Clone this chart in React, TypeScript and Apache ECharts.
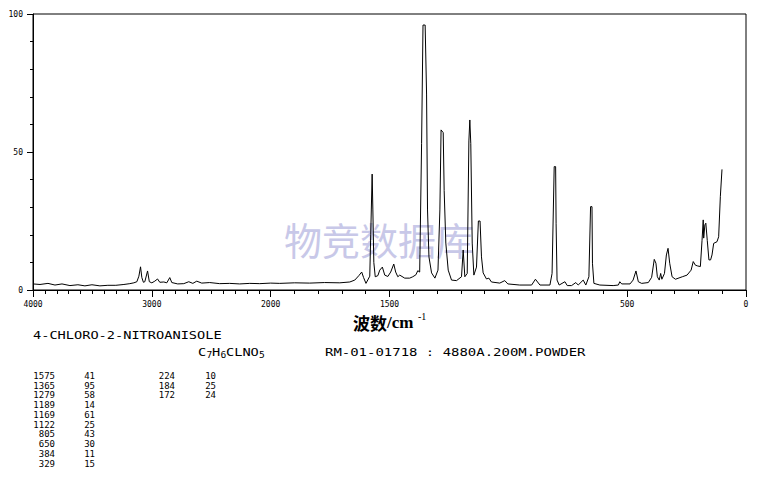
import React, { useEffect, useRef } from "react";
import * as echarts from "echarts";

// Raman spectrum: wavenumber (cm-1) and intensity
const wavenumbers = [
  4000, 3941, 3874, 3815, 3756, 3689, 3622, 3563, 3504, 3437, 3370, 3303, 3235, 3185, 3151, 3126,
  3109, 3095, 3084, 3071, 3059, 3036, 3021, 3000, 2975, 2952, 2933, 2899, 2874, 2849, 2832, 2782,
  2731, 2689, 2655, 2622, 2580, 2513, 2429, 2345, 2261, 2176, 2092, 2000,
  1962, 1899, 1836, 1773, 1709, 1667, 1646, 1629, 1617, 1609, 1599, 1583, 1579, 1573, 1570, 1566,
  1560, 1549, 1541, 1530, 1520, 1507, 1495, 1482, 1474, 1465, 1457, 1436, 1415, 1402, 1389, 1381,
  1373, 1365, 1359, 1350, 1344, 1340, 1334, 1323, 1309,
  1296, 1288, 1283, 1274, 1270, 1263, 1253, 1239, 1218, 1197, 1190, 1183, 1173, 1166, 1162, 1158,
  1152, 1145, 1134, 1126, 1119, 1113, 1106, 1092, 1082, 1071, 1036, 1015, 1002, 952, 902, 886,
  867, 825, 816, 807, 801, 799, 795, 786, 762, 752, 734, 716, 706, 685, 674, 661,
  654, 648, 646, 640, 615, 559, 537, 531, 523, 488, 475, 463, 453, 439, 411, 397,
  386, 379, 373, 365, 359, 354, 343, 335, 328, 321, 311, 297, 268, 248, 231, 222,
  213, 203, 192, 185, 180, 178, 173, 169, 163, 156, 149, 143, 136, 122, 115, 108, 101,
];
const intensities = [
  2.2, 2.0, 2.4, 1.8, 2.2, 1.6, 1.9, 1.5, 1.9, 1.5, 1.7, 1.7, 2.0, 2.3, 2.6, 3.0,
  5.0, 8.4, 4.5, 2.8, 3.0, 6.9, 3.0, 2.6, 3.2, 4.0, 2.8, 2.9, 2.6, 4.5, 2.7, 2.2,
  2.3, 3.0, 2.4, 3.2, 2.5, 2.7, 2.3, 2.4, 2.2, 2.4, 2.3, 2.5,
  2.4, 2.6, 2.5, 2.7, 2.6, 2.9, 3.6, 5.2, 6.5, 4.5, 2.4, 5.0, 20, 42, 29, 10,
  4.8, 5.2, 7.2, 8.3, 5.4, 4.9, 6.5, 9.4, 6.5, 4.8, 5.4, 4.3, 4.3, 4.8, 5.5, 7.0,
  6.5, 53, 96, 96, 71, 29, 12, 6.2, 4.3,
  7.2, 29, 58, 57, 36, 17, 7.2, 3.6, 3.4, 4.8, 14.5, 4.8, 6.0, 54, 61.6, 53,
  17, 5.4, 8.3, 25, 25, 12, 6.2, 4.0, 4.3, 2.9, 2.5, 3.4, 2.2, 1.8, 1.8, 3.9,
  1.8, 1.8, 6.0, 44.7, 44.7, 24, 3.6, 1.8, 3.0, 1.6, 1.6, 2.7, 1.8, 3.6, 1.8, 4.8,
  30.2, 30.2, 9.7, 2.4, 1.8, 1.6, 1.8, 3.0, 2.2, 2.2, 3.6, 6.9, 3.0, 2.4, 2.7, 4.6,
  11.1, 9.7, 4.8, 3.6, 6.0, 3.9, 6.0, 12.7, 15.1, 9.7, 4.8, 3.9, 4.8, 5.4, 7.2, 10.3,
  9.0, 8.7, 8.5, 18, 25.4, 18.8, 23.6, 24.2, 18, 10.9, 10.9, 12.7, 16.9, 17.5, 19.3, 33.8, 43.7,
];

const xTickLabels = [4000, 3000, 2000, 1500, 500, 0];
const yTickLabels = [0, 50, 100];

const compoundName = "4-CHLORO-2-NITROANISOLE";
const recordInfo = "RM-01-01718 : 4880A.200M.POWDER";
const peakWavenumbersA = ["1575", "1365", "1279", "1189", "1169", "1122", "805", "650", "384", "329"];
const peakIntensitiesA = ["41", "95", "58", "14", "61", "25", "43", "30", "11", "15"];
const peakWavenumbersB = ["224", "184", "172"];
const peakIntensitiesB = ["10", "25", "24"];

// split wavenumber scale: 4000-2000 compressed by half relative to 2000-0
const toU = (cm: number) => (cm >= 2000 ? (4000 - cm) / 2 : 1000 + (2000 - cm));
const fromU = (u: number) => (u <= 1000 ? 4000 - 2 * u : 3000 - u);

const MONO = '"DejaVu Sans Mono"';

export default function App() {
  const ref = useRef<HTMLDivElement>(null);
  useEffect(() => {
    if (!ref.current) return;
    const chart = echarts.init(ref.current, undefined, { renderer: "svg" });
    const minorTicks: number[] = [];
    for (let cm = 4000; cm >= 0; cm -= 100) minorTicks.push(toU(cm));
    const majorTicks = xTickLabels.map(toU);

    const axisLabelStyle = { fontFamily: MONO, fontSize: 8, color: "#000" };

    const textEl = (x: number, y: number, text: string, font: string, extra: any = {}) => ({
      type: "text",
      x,
      y,
      z: 5,
      ...extra,
      style: { text, font, fill: "#000", verticalAlign: "middle", ...(extra.style || {}) },
    });

    const column = (x: number, lines: string[]) => ({
      type: "text",
      x,
      y: 371,
      z: 5,
      style: {
        text: lines.join("\n"),
        font: `9px ${MONO}`,
        lineHeight: 9.75,
        fill: "#000",
        align: "right",
        verticalAlign: "top",
      },
    });

    chart.setOption({
      animation: false,
      backgroundColor: "#fff",
      grid: {
        left: 33,
        right: 15,
        top: 14,
        bottom: 187,
        show: true,
        borderColor: "#000",
        borderWidth: 1,
        backgroundColor: "transparent",
      },
      xAxis: [
        {
          type: "value",
          min: 0,
          max: 3000,
          position: "bottom",
          axisLine: { show: true, lineStyle: { color: "#000", width: 1 } },
          splitLine: { show: false },
          axisTick: { show: true, length: 7, customValues: majorTicks, lineStyle: { color: "#000" } },
          axisLabel: {
            ...axisLabelStyle,
            margin: 10,
            customValues: majorTicks,
            formatter: (v: number) => String(Math.round(fromU(v))),
          },
        },
        {
          type: "value",
          min: 0,
          max: 3000,
          position: "bottom",
          axisLine: { show: false },
          splitLine: { show: false },
          axisTick: { show: true, length: 4, customValues: minorTicks, lineStyle: { color: "#000" } },
          axisLabel: { show: false },
        },
      ],
      yAxis: [
        {
          type: "value",
          min: 0,
          max: 100,
          interval: 50,
          position: "left",
          axisLine: { show: true, lineStyle: { color: "#000", width: 1 } },
          splitLine: { show: false },
          axisTick: { show: true, length: 6, lineStyle: { color: "#000" } },
          axisLabel: {
            ...axisLabelStyle,
            margin: 10,
            customValues: yTickLabels,
          },
        },
        {
          type: "value",
          min: 0,
          max: 100,
          interval: 10,
          position: "left",
          axisLine: { show: false },
          splitLine: { show: false },
          axisTick: { show: true, length: 3, lineStyle: { color: "#000" } },
          axisLabel: { show: false },
        },
      ],
      graphic: [
        {
          type: "text",
          x: 284,
          y: 238,
          z: 0,
          style: {
            text: "物竞数据库",
            font: '38px "Noto Sans CJK SC"',
            fill: "#c8c8e8",
            verticalAlign: "middle",
          },
        },
        {
          type: "text",
          x: 353,
          y: 322,
          z: 5,
          style: {
            text: "{a|波数}{b|/cm}",
            verticalAlign: "middle",
            rich: {
              a: { font: 'bold 17px "Noto Sans CJK SC"', fill: "#000" },
              b: { font: 'bold 17px "Liberation Serif"', fill: "#000" },
            },
          },
        },
        textEl(418, 316, "-1", '10px "Liberation Serif"'),
        textEl(33, 335.5, compoundName, `11px ${MONO}`, { scaleX: 1.24 }),
        textEl(198, 352, "C", `11px ${MONO}`, { scaleX: 1.24 }),
        textEl(206.5, 355.5, "7", `8px ${MONO}`, { scaleX: 1.2 }),
        textEl(212, 352, "H", `11px ${MONO}`, { scaleX: 1.24 }),
        textEl(220.5, 355.5, "6", `8px ${MONO}`, { scaleX: 1.2 }),
        textEl(226, 352, "CLNO", `11px ${MONO}`, { scaleX: 1.24 }),
        textEl(259, 355.5, "5", `8px ${MONO}`, { scaleX: 1.2 }),
        textEl(325, 352, recordInfo, `11px ${MONO}`, { scaleX: 1.27 }),
        column(55, peakWavenumbersA),
        column(95, peakIntensitiesA),
        column(175, peakWavenumbersB),
        column(216, peakIntensitiesB),
      ],
      series: [
        {
          type: "line",
          xAxisIndex: 0,
          yAxisIndex: 0,
          data: wavenumbers.map((w, i) => [toU(w), intensities[i]]),
          showSymbol: false,
          symbol: "none",
          lineStyle: { color: "#000", width: 1 },
          z: 3,
        },
      ],
    });
    return () => chart.dispose();
  }, []);
  return (
    <div
      ref={ref}
      style={{ position: "absolute", left: 0, top: 0, width: 761, height: 477, background: "#fff" }}
    />
  );
}
